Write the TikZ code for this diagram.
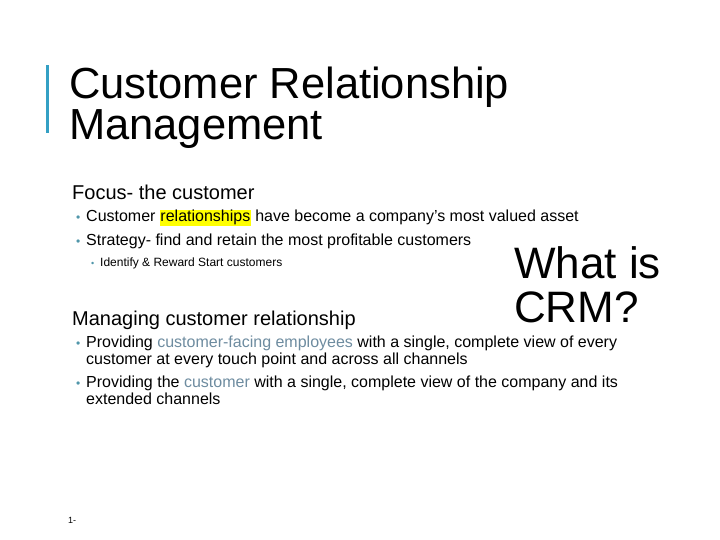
\documentclass[tikz,border=0pt]{standalone}
\usepackage{fontspec}
\setmainfont{Liberation Sans}
\definecolor{accent}{RGB}{52,160,196}
\definecolor{bul}{RGB}{80,150,170}
\definecolor{soft}{RGB}{110,140,160}
\definecolor{hl}{RGB}{255,255,0}
\begin{document}
\begin{tikzpicture}[x=1pt,y=-1pt,
  txt/.style={anchor=base west,inner sep=0pt,text=black},
  bl/.style={text=bul,anchor=base west,inner sep=0pt}]
\useasboundingbox (0,0) rectangle (720,540);
\fill[white] (0,0) rectangle (720,540);
\fill[accent] (46,65) rectangle (49,133);
\node[txt,font=\fontsize{43.5}{44}\selectfont] (t1) at (69,99) {Customer Relationship};
\node[txt,font=\fontsize{43.5}{44}\selectfont] (t2) at (69,140) {Management};
\node[txt,font=\fontsize{20}{20}\selectfont] (f) at (72,200) {Focus- the customer};
\node[bl,font=\fontsize{12}{12}\selectfont] (b1) at (76,222) {•};
\node[txt,font=\fontsize{16}{16}\selectfont] (l1) at (86,222) {Customer \setlength{\fboxsep}{0.5pt}\colorbox{hl}{relationships} have become a company’s most valued asset};
\node[bl,font=\fontsize{12}{12}\selectfont] (b2) at (76,245) {•};
\node[txt,font=\fontsize{16}{16}\selectfont] (l2) at (86,245) {Strategy- find and retain the most profitable customers};
\node[bl,font=\fontsize{9}{9}\selectfont] (b3) at (91,266) {•};
\node[txt,font=\fontsize{12}{12}\selectfont] (l3) at (100,266) {Identify \& Reward Start customers};
\node[txt,font=\fontsize{20}{20}\selectfont] (m) at (72,325) {Managing customer relationship};
\node[bl,font=\fontsize{12}{12}\selectfont] (b4) at (76,347) {•};
\node[txt,font=\fontsize{16}{16}\selectfont] (l4) at (86,347) {Providing \textcolor{soft}{customer-facing employees} with a single, complete view of every};
\node[txt,font=\fontsize{16}{16}\selectfont] (l5) at (86,364) {customer at every touch point and across all channels};
\node[bl,font=\fontsize{12}{12}\selectfont] (b5) at (76,387) {•};
\node[txt,font=\fontsize{16}{16}\selectfont] (l6) at (86,387) {Providing the \textcolor{soft}{customer} with a single, complete view of the company and its};
\node[txt,font=\fontsize{16}{16}\selectfont] (l7) at (86,404) {extended channels};
\node[txt,font=\fontsize{44}{44}\selectfont] (w1) at (514,278) {What is};
\node[txt,font=\fontsize{44}{44}\selectfont] (w2) at (514,322) {CRM?};
\node[txt,font=\fontsize{9}{9}\selectfont] (n) at (68,523) {1-};
\end{tikzpicture}
\end{document}
